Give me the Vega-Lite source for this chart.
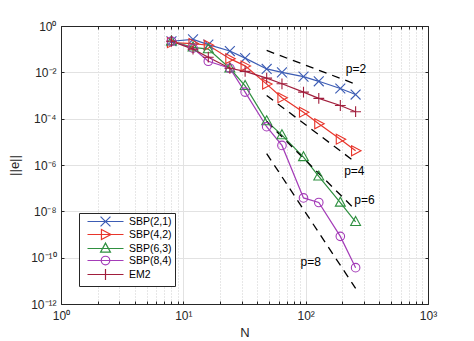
{
  "$schema": "https://vega.github.io/schema/vega-lite/v6.json",
  "width": 367,
  "height": 278,
  "autosize": {"type": "none"},
  "padding": {"left": 61, "top": 26, "right": 46, "bottom": 37},
  "background": "white",
  "config": {
    "font": "Liberation Sans",
    "view": {"stroke": null},
    "axis": {
      "labelFont": "Liberation Sans",
      "labelFontSize": 12,
      "labelColor": "#262626",
      "domainColor": "#262626",
      "tickColor": "#262626",
      "titleFont": "Liberation Sans",
      "titleFontSize": 13,
      "titleFontWeight": "normal",
      "titleColor": "#262626",
      "tickSize": -3
    },
    "legend": {
      "title": null,
      "orient": "bottom-left",
      "offset": 18,
      "fillColor": "white",
      "strokeColor": "#262626",
      "padding": 3,
      "labelFont": "Liberation Sans",
      "labelFontSize": 10.5,
      "labelColor": "#000000",
      "symbolSize": 81,
      "symbolStrokeWidth": 1.2,
      "symbolOffset": 18,
      "labelOffset": 18,
      "rowPadding": -2
    }
  },
  "datasets": {
    "series": [
      {"series": "SBP(2,1)", "N": 8, "e": 0.22},
      {"series": "SBP(2,1)", "N": 12, "e": 0.265},
      {"series": "SBP(2,1)", "N": 16, "e": 0.157},
      {"series": "SBP(2,1)", "N": 24, "e": 0.083},
      {"series": "SBP(2,1)", "N": 32, "e": 0.041},
      {"series": "SBP(2,1)", "N": 48, "e": 0.014},
      {"series": "SBP(2,1)", "N": 64, "e": 0.0100},
      {"series": "SBP(2,1)", "N": 96, "e": 0.0065},
      {"series": "SBP(2,1)", "N": 128, "e": 0.0041},
      {"series": "SBP(2,1)", "N": 192, "e": 0.0020},
      {"series": "SBP(2,1)", "N": 256, "e": 0.0011},
      {"series": "SBP(4,2)", "N": 8, "e": 0.19},
      {"series": "SBP(4,2)", "N": 12, "e": 0.175},
      {"series": "SBP(4,2)", "N": 16, "e": 0.148},
      {"series": "SBP(4,2)", "N": 24, "e": 0.039},
      {"series": "SBP(4,2)", "N": 32, "e": 0.019},
      {"series": "SBP(4,2)", "N": 48, "e": 0.0031},
      {"series": "SBP(4,2)", "N": 64, "e": 0.0008},
      {"series": "SBP(4,2)", "N": 96, "e": 0.00019},
      {"series": "SBP(4,2)", "N": 128, "e": 0.00006},
      {"series": "SBP(4,2)", "N": 192, "e": 0.000013},
      {"series": "SBP(4,2)", "N": 256, "e": 0.0000041},
      {"series": "SBP(6,3)", "N": 8, "e": 0.22},
      {"series": "SBP(6,3)", "N": 12, "e": 0.12},
      {"series": "SBP(6,3)", "N": 16, "e": 0.1},
      {"series": "SBP(6,3)", "N": 24, "e": 0.015},
      {"series": "SBP(6,3)", "N": 32, "e": 0.0026},
      {"series": "SBP(6,3)", "N": 48, "e": 0.000078},
      {"series": "SBP(6,3)", "N": 64, "e": 0.0000195},
      {"series": "SBP(6,3)", "N": 96, "e": 0.0000022},
      {"series": "SBP(6,3)", "N": 128, "e": 0.00000032},
      {"series": "SBP(6,3)", "N": 192, "e": 0.000000024},
      {"series": "SBP(6,3)", "N": 256, "e": 0.0000000035},
      {"series": "SBP(8,4)", "N": 8, "e": 0.22},
      {"series": "SBP(8,4)", "N": 12, "e": 0.11},
      {"series": "SBP(8,4)", "N": 16, "e": 0.03},
      {"series": "SBP(8,4)", "N": 24, "e": 0.015},
      {"series": "SBP(8,4)", "N": 32, "e": 0.0014},
      {"series": "SBP(8,4)", "N": 48, "e": 0.000045},
      {"series": "SBP(8,4)", "N": 64, "e": 0.000007},
      {"series": "SBP(8,4)", "N": 96, "e": 0.000000038},
      {"series": "SBP(8,4)", "N": 128, "e": 0.000000024},
      {"series": "SBP(8,4)", "N": 192, "e": 0.00000000083},
      {"series": "SBP(8,4)", "N": 256, "e": 0.000000000037},
      {"series": "EM2", "N": 8, "e": 0.22},
      {"series": "EM2", "N": 12, "e": 0.1},
      {"series": "EM2", "N": 16, "e": 0.045},
      {"series": "EM2", "N": 24, "e": 0.015},
      {"series": "EM2", "N": 32, "e": 0.011},
      {"series": "EM2", "N": 48, "e": 0.0056},
      {"series": "EM2", "N": 64, "e": 0.0032},
      {"series": "EM2", "N": 96, "e": 0.0014},
      {"series": "EM2", "N": 128, "e": 0.00075},
      {"series": "EM2", "N": 192, "e": 0.00037},
      {"series": "EM2", "N": 256, "e": 0.0002}
    ],
    "ref": [
      {"p": "p2", "N": 48, "e": 0.088},
      {"p": "p2", "N": 256, "e": 0.0031},
      {"p": "p4", "N": 48, "e": 0.001},
      {"p": "p4", "N": 256, "e": 0.0000013},
      {"p": "p6", "N": 48, "e": 0.000075},
      {"p": "p6", "N": 240, "e": 0.000000016},
      {"p": "p8", "N": 48, "e": 0.0000031},
      {"p": "p8", "N": 256, "e": 0.0000000000047}
    ],
    "labels": [
      {"text": "p=2", "N": 258, "e": 0.0135},
      {"text": "p=4", "N": 250, "e": 0.00000055},
      {"text": "p=6", "N": 302, "e": 0.000000032},
      {"text": "p=8", "N": 110, "e": 0.000000000065}
    ]
  },
  "resolve": {"axis": {"x": "independent", "y": "independent"}},
  "layer": [
    {
      "data": {"name": "series"},
      "mark": {"type": "line", "strokeWidth": 1.2},
      "encoding": {
        "x": {
          "field": "N", "type": "quantitative",
          "scale": {"type": "log", "domain": [1, 1000]},
          "axis": {
            "orient": "bottom",
            "title": "N",
            "titlePadding": 5,
            "values": [1, 2, 3, 4, 5, 6, 7, 8, 9, 10, 20, 30, 40, 50, 60, 70, 80, 90, 100, 200, 300, 400, 500, 600, 700, 800, 900, 1000],
            "labelExpr": "indexof([1,10,100,1000], datum.value) >= 0 ? '10' + substring('⁰¹²³⁴⁵⁶⁷⁸⁹', round(log(datum.value)/LN10), round(log(datum.value)/LN10)+1) : ''",
            "labelPadding": 9,
            "labelFlush": false,
            "labelOverlap": false,
            "grid": true,
            "gridColor": {"condition": {"test": "indexof([1,10,100,1000], datum.value) >= 0", "value": "#e2e2e2"}, "value": "#cfcfcf"},
            "gridDash": {"condition": {"test": "indexof([1,10,100,1000], datum.value) >= 0", "value": []}, "value": [1, 2]},
            "gridWidth": 1
          }
        },
        "y": {
          "field": "e", "type": "quantitative",
          "scale": {"type": "log", "domain": [1e-12, 1]},
          "axis": {
            "orient": "left",
            "title": "||e||",
            "titlePadding": 9,
            "values": [1e-12, 1e-10, 1e-8, 1e-6, 1e-4, 1e-2, 1],
            "labelExpr": "'10' + (round(-log(datum.value)/LN10) > 0 ? '⁻' : '') + (round(-log(datum.value)/LN10) >= 10 ? substring('⁰¹²³⁴⁵⁶⁷⁸⁹', floor(round(-log(datum.value)/LN10)/10), floor(round(-log(datum.value)/LN10)/10)+1) : '') + substring('⁰¹²³⁴⁵⁶⁷⁸⁹', round(-log(datum.value)/LN10) % 10, round(-log(datum.value)/LN10) % 10 + 1)",
            "labelPadding": 8,
            "labelFlush": false,
            "labelOverlap": false,
            "grid": true,
            "gridColor": "#e2e2e2"
          }
        },
        "color": {
          "field": "series", "type": "nominal",
          "scale": {"domain": ["SBP(2,1)", "SBP(4,2)", "SBP(6,3)", "SBP(8,4)", "EM2"], "range": ["#3c5cb4", "#e8352b", "#2f9040", "#a43cb8", "#a11e3c"]}
        },
        "detail": {"field": "series"}
      }
    },
    {
      "data": {"name": "ref"},
      "mark": {"type": "line", "color": "black", "strokeWidth": 1.3, "strokeDash": [8, 6]},
      "encoding": {
        "x": {
          "field": "N", "type": "quantitative",
          "scale": {"type": "log", "domain": [1, 1000]},
          "axis": {
            "orient": "top",
            "title": null,
            "labels": false,
            "grid": false,
            "values": [1, 2, 3, 4, 5, 6, 7, 8, 9, 10, 20, 30, 40, 50, 60, 70, 80, 90, 100, 200, 300, 400, 500, 600, 700, 800, 900, 1000]
          }
        },
        "y": {
          "field": "e", "type": "quantitative",
          "scale": {"type": "log", "domain": [1e-12, 1]},
          "axis": {
            "orient": "right",
            "title": null,
            "labels": false,
            "grid": false,
            "values": [1e-12, 1e-10, 1e-8, 1e-6, 1e-4, 1e-2, 1]
          }
        },
        "detail": {"field": "p"}
      }
    },
    {
      "data": {"name": "series"},
      "transform": [{"filter": "datum.series === 'SBP(2,1)'"}],
      "mark": {"type": "point", "filled": false, "strokeWidth": 1.1, "opacity": 1, "size": 81, "shape": "M-1.1,-1.1L1.1,1.1M-1.1,1.1L1.1,-1.1", "color": "#3c5cb4"},
      "encoding": {
        "x": {"field": "N", "type": "quantitative", "scale": {"type": "log", "domain": [1, 1000]}, "axis": null},
        "y": {"field": "e", "type": "quantitative", "scale": {"type": "log", "domain": [1e-12, 1]}, "axis": null}
      }
    },
    {
      "data": {"name": "series"},
      "transform": [{"filter": "datum.series === 'SBP(4,2)'"}],
      "mark": {"type": "point", "filled": false, "strokeWidth": 1.1, "opacity": 1, "size": 81, "shape": "M-0.9,-1.1L1.2,0L-0.9,1.1Z", "color": "#e8352b"},
      "encoding": {
        "x": {"field": "N", "type": "quantitative", "scale": {"type": "log", "domain": [1, 1000]}, "axis": null},
        "y": {"field": "e", "type": "quantitative", "scale": {"type": "log", "domain": [1e-12, 1]}, "axis": null}
      }
    },
    {
      "data": {"name": "series"},
      "transform": [{"filter": "datum.series === 'SBP(6,3)'"}],
      "mark": {"type": "point", "filled": false, "strokeWidth": 1.1, "opacity": 1, "size": 81, "shape": "M0,-1.2L1.1,0.8L-1.1,0.8Z", "color": "#2f9040"},
      "encoding": {
        "x": {"field": "N", "type": "quantitative", "scale": {"type": "log", "domain": [1, 1000]}, "axis": null},
        "y": {"field": "e", "type": "quantitative", "scale": {"type": "log", "domain": [1e-12, 1]}, "axis": null}
      }
    },
    {
      "data": {"name": "series"},
      "transform": [{"filter": "datum.series === 'SBP(8,4)'"}],
      "mark": {"type": "point", "filled": false, "strokeWidth": 1.1, "opacity": 1, "size": 81, "shape": "M0.95,0A0.95,0.95 0 1,1 -0.95,0A0.95,0.95 0 1,1 0.95,0", "color": "#a43cb8"},
      "encoding": {
        "x": {"field": "N", "type": "quantitative", "scale": {"type": "log", "domain": [1, 1000]}, "axis": null},
        "y": {"field": "e", "type": "quantitative", "scale": {"type": "log", "domain": [1e-12, 1]}, "axis": null}
      }
    },
    {
      "data": {"name": "series"},
      "transform": [{"filter": "datum.series === 'EM2'"}],
      "mark": {"type": "point", "filled": false, "strokeWidth": 1.1, "opacity": 1, "size": 81, "shape": "M-1.2,0L1.2,0M0,-1.2L0,1.2", "color": "#a11e3c"},
      "encoding": {
        "x": {"field": "N", "type": "quantitative", "scale": {"type": "log", "domain": [1, 1000]}, "axis": null},
        "y": {"field": "e", "type": "quantitative", "scale": {"type": "log", "domain": [1e-12, 1]}, "axis": null}
      }
    },
    {
      "data": {"name": "series"},
      "transform": [{"filter": "false"}],
      "mark": {"type": "point", "filled": false, "strokeWidth": 1.2, "opacity": 1, "size": 81},
      "encoding": {
        "x": {"field": "N", "type": "quantitative", "scale": {"type": "log", "domain": [1, 1000]}, "axis": null},
        "y": {"field": "e", "type": "quantitative", "scale": {"type": "log", "domain": [1e-12, 1]}, "axis": null},
        "color": {
          "field": "series", "type": "nominal",
          "scale": {"domain": ["SBP(2,1)", "SBP(4,2)", "SBP(6,3)", "SBP(8,4)", "EM2"], "range": ["#3c5cb4", "#e8352b", "#2f9040", "#a43cb8", "#a11e3c"]}
        },
        "shape": {
          "field": "series", "type": "nominal",
          "scale": {"domain": ["SBP(2,1)", "SBP(4,2)", "SBP(6,3)", "SBP(8,4)", "EM2"], "range": ["M-4,0L4,0M-1.1,-1.1L1.1,1.1M-1.1,1.1L1.1,-1.1", "M-4,0L4,0M-0.9,-1.1L1.2,0L-0.9,1.1Z", "M-4,0L4,0M0,-1.2L1.1,0.8L-1.1,0.8Z", "M-4,0L4,0M0.95,0A0.95,0.95 0 1,1 -0.95,0A0.95,0.95 0 1,1 0.95,0", "M-4,0L4,0M-1.2,0L1.2,0M0,-1.2L0,1.2"]}
        }
      }
    },
    {
      "data": {"name": "labels"},
      "mark": {"type": "text", "font": "Liberation Sans", "fontSize": 12, "color": "black", "align": "center", "baseline": "middle"},
      "encoding": {
        "x": {"field": "N", "type": "quantitative", "scale": {"type": "log", "domain": [1, 1000]}, "axis": null},
        "y": {"field": "e", "type": "quantitative", "scale": {"type": "log", "domain": [1e-12, 1]}, "axis": null},
        "text": {"field": "text"}
      }
    }
  ]
}
